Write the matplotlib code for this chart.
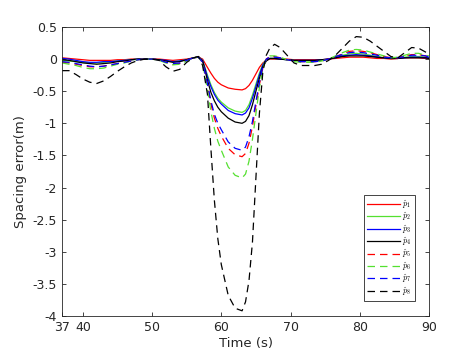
import matplotlib
matplotlib.use('Agg')
import matplotlib.pyplot as plt

plt.rcParams['mathtext.fontset'] = 'cm'

# time grid (s)
t = [37, 38, 39, 40, 41, 42, 43, 44, 45, 46, 47, 48, 49, 50, 51, 52, 53, 54, 55, 56,
     56.7, 57.3, 58, 58.5, 59, 59.5, 60, 61, 62, 63, 63.5, 64, 64.5, 65, 65.5, 66, 66.5, 67,
     67.7, 68.5, 69.5, 70.5, 71.5, 72.5, 73.5, 74.5, 75.5, 76.5, 77.5, 78.5, 79.5, 80.5,
     81.5, 82.5, 83.5, 84.5, 85.5, 86.5, 87.5, 88.5, 89.5, 90]

# spacing errors (m)
p1 = [0.02, 0.01, 0.0, -0.01, -0.02, -0.02, -0.02, -0.02, -0.01, -0.01, 0.0, 0.0, 0.0, 0.0, 0.0, -0.01, -0.02, -0.01, 0.0, 0.02,
      0.03, 0.0, -0.13, -0.22, -0.3, -0.36, -0.4, -0.45, -0.47, -0.48, -0.46, -0.41, -0.33, -0.23, -0.13, -0.06, -0.02, 0.0,
      0.0, 0.0, 0.0, -0.01, -0.01, -0.01, -0.01, -0.01, 0.0, 0.01, 0.02, 0.03, 0.03, 0.03,
      0.02, 0.01, 0.01, 0.0, 0.01, 0.02, 0.02, 0.02, 0.01, 0.01]
p2 = [-0.02, -0.03, -0.04, -0.05, -0.06, -0.06, -0.05, -0.04, -0.03, -0.02, -0.01, 0.0, 0.0, 0.0, -0.01, -0.03, -0.04, -0.03, -0.01, 0.02,
      0.03, -0.02, -0.25, -0.4, -0.52, -0.61, -0.67, -0.76, -0.81, -0.83, -0.8, -0.71, -0.56, -0.39, -0.22, -0.08, -0.01, 0.01,
      0.01, 0.0, -0.01, -0.02, -0.03, -0.03, -0.03, -0.02, 0.0, 0.03, 0.06, 0.08, 0.09, 0.08,
      0.06, 0.04, 0.02, 0.01, 0.01, 0.03, 0.04, 0.04, 0.03, 0.02]
p3 = [0.01, 0.0, -0.02, -0.04, -0.05, -0.05, -0.04, -0.04, -0.03, -0.02, -0.01, 0.0, 0.0, 0.0, -0.01, -0.02, -0.04, -0.03, -0.01, 0.02,
      0.03, -0.02, -0.28, -0.43, -0.55, -0.64, -0.7, -0.8, -0.85, -0.87, -0.84, -0.76, -0.61, -0.43, -0.25, -0.09, -0.02, 0.01,
      0.01, 0.0, -0.01, -0.02, -0.02, -0.02, -0.02, -0.01, 0.0, 0.02, 0.05, 0.06, 0.07, 0.06,
      0.05, 0.03, 0.02, 0.01, 0.01, 0.02, 0.03, 0.03, 0.02, 0.02]
p4 = [-0.01, -0.02, -0.04, -0.06, -0.07, -0.08, -0.07, -0.06, -0.04, -0.03, -0.01, 0.0, 0.0, 0.0, -0.01, -0.03, -0.05, -0.04, -0.01, 0.02,
      0.04, -0.03, -0.33, -0.52, -0.65, -0.75, -0.82, -0.92, -0.98, -1.0, -0.97, -0.88, -0.71, -0.5, -0.3, -0.12, -0.03, 0.01,
      0.01, 0.0, -0.01, -0.02, -0.02, -0.02, -0.02, -0.01, 0.0, 0.02, 0.04, 0.05, 0.05, 0.05,
      0.04, 0.03, 0.02, 0.01, 0.01, 0.02, 0.02, 0.02, 0.02, 0.01]
p5 = [-0.05, -0.06, -0.08, -0.1, -0.12, -0.12, -0.11, -0.09, -0.07, -0.05, -0.03, -0.01, 0.0, 0.0, -0.01, -0.05, -0.08, -0.07, -0.02, 0.02,
      0.03, -0.05, -0.4, -0.7, -0.92, -1.08, -1.2, -1.39, -1.49, -1.52, -1.47, -1.31, -1.05, -0.72, -0.4, -0.14, 0.0, 0.04,
      0.04, 0.02, -0.01, -0.03, -0.04, -0.04, -0.04, -0.03, 0.0, 0.04, 0.08, 0.12, 0.13, 0.12,
      0.1, 0.07, 0.04, 0.02, 0.02, 0.05, 0.07, 0.07, 0.05, 0.04]
p6 = [-0.06, -0.08, -0.1, -0.13, -0.15, -0.15, -0.14, -0.11, -0.08, -0.06, -0.03, -0.01, 0.0, 0.0, -0.02, -0.06, -0.09, -0.08, -0.03, 0.02,
      0.03, -0.06, -0.48, -0.82, -1.08, -1.28, -1.42, -1.68, -1.81, -1.85, -1.79, -1.59, -1.25, -0.85, -0.45, -0.15, 0.0, 0.05,
      0.05, 0.03, -0.01, -0.04, -0.05, -0.05, -0.05, -0.03, 0.0, 0.05, 0.1, 0.14, 0.15, 0.14,
      0.11, 0.08, 0.05, 0.02, 0.03, 0.06, 0.09, 0.09, 0.06, 0.05]
p7 = [-0.04, -0.05, -0.07, -0.09, -0.11, -0.12, -0.11, -0.09, -0.07, -0.05, -0.03, -0.01, 0.0, 0.0, -0.01, -0.05, -0.07, -0.06, -0.02, 0.02,
      0.03, -0.05, -0.38, -0.65, -0.86, -1.0, -1.1, -1.29, -1.39, -1.42, -1.37, -1.21, -0.97, -0.66, -0.36, -0.12, 0.0, 0.03,
      0.03, 0.02, -0.01, -0.03, -0.04, -0.04, -0.04, -0.03, 0.0, 0.04, 0.07, 0.1, 0.11, 0.1,
      0.08, 0.06, 0.03, 0.02, 0.02, 0.04, 0.06, 0.06, 0.05, 0.03]
p8 = [-0.18, -0.18, -0.24, -0.31, -0.36, -0.38, -0.34, -0.27, -0.19, -0.12, -0.06, -0.02, 0.0, 0.0, -0.02, -0.12, -0.19, -0.16, -0.05, 0.02,
      0.04, -0.1, -0.55, -1.4, -2.2, -2.8, -3.2, -3.68, -3.88, -3.92, -3.78, -3.45, -2.85, -1.85, -0.85, -0.2, 0.06, 0.17,
      0.23, 0.18, 0.06, -0.06, -0.1, -0.1, -0.1, -0.08, -0.02, 0.06, 0.17, 0.28, 0.35, 0.34,
      0.28, 0.2, 0.12, 0.04, 0.02, 0.1, 0.18, 0.17, 0.11, 0.09]

series = [p1, p2, p3, p4, p5, p6, p7, p8]
labels = [r'$\hat{p}_%d$' % i for i in range(1, 9)]
colors = ['#ff0000', '#55e030', '#0000ff', '#000000'] * 2
styles = ['-'] * 4 + ['--'] * 4

fig = plt.figure(figsize=(4.74, 3.55), dpi=100)
ax = fig.add_axes([0.131, 0.110, 0.774, 0.814])

for y, lab, c, ls in zip(series, labels, colors, styles):
    if ls == '--':
        ax.plot(t, y, color=c, linewidth=0.9, label=lab, dashes=(6, 4))
    else:
        ax.plot(t, y, color=c, linewidth=0.9, label=lab)

ax.set_xlim(37, 90)
ax.set_ylim(-4, 0.5)
ax.set_xticks([37, 40, 50, 60, 70, 80, 90])
ax.set_yticks([0.5, 0, -0.5, -1, -1.5, -2, -2.5, -3, -3.5, -4])
ax.set_yticklabels(['0.5', '0', '-0.5', '-1', '-1.5', '-2', '-2.5', '-3', '-3.5', '-4'])
ax.tick_params(direction='in', top=True, right=True, labelsize=9, length=3,
               color='#262626', labelcolor='#262626', width=0.6)
for s in ax.spines.values():
    s.set_color('#262626')
    s.set_linewidth(0.6)

ax.set_xlabel('Time (s)', fontsize=9.5, color='#262626', labelpad=2)
ax.set_ylabel('Spacing error(m)', fontsize=9.5, color='#262626', labelpad=4)

leg = ax.legend(loc='lower right', bbox_to_anchor=(0.962, 0.053), borderaxespad=0,
                fontsize=6, handlelength=4.0, labelspacing=0.0, fancybox=False,
                edgecolor='#262626', framealpha=1, borderpad=0.35, handletextpad=0.3)
leg.get_frame().set_linewidth(0.6)

fig.savefig('out.png', dpi=100)
